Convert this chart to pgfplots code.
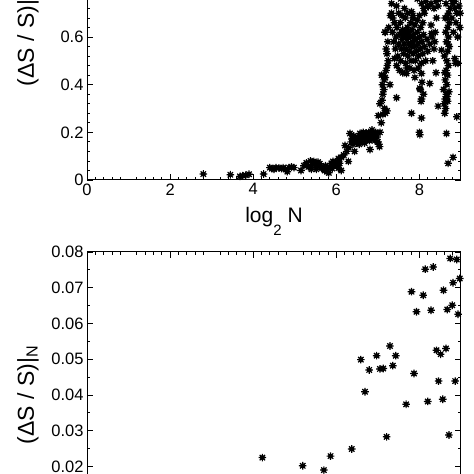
\documentclass[border=0pt]{standalone}
\usepackage{fontspec}
\setmainfont{Liberation Sans}
\usepackage{pgfplots}
\pgfplotsset{compat=1.18}
\pgfdeclareplotmark{ast8}{%
  \pgfpathmoveto{\pgfqpoint{-\pgfplotmarksize}{0pt}}%
  \pgfpathlineto{\pgfqpoint{\pgfplotmarksize}{0pt}}%
  \pgfpathmoveto{\pgfqpoint{0pt}{-\pgfplotmarksize}}%
  \pgfpathlineto{\pgfqpoint{0pt}{\pgfplotmarksize}}%
  \pgfpathmoveto{\pgfqpoint{-0.7071\pgfplotmarksize}{-0.7071\pgfplotmarksize}}%
  \pgfpathlineto{\pgfqpoint{0.7071\pgfplotmarksize}{0.7071\pgfplotmarksize}}%
  \pgfpathmoveto{\pgfqpoint{-0.7071\pgfplotmarksize}{0.7071\pgfplotmarksize}}%
  \pgfpathlineto{\pgfqpoint{0.7071\pgfplotmarksize}{-0.7071\pgfplotmarksize}}%
  \pgfusepathqstroke
  \pgfpathcircle{\pgfpointorigin}{0.65\pgfplotmarksize}%
  \pgfusepathqfill
}
\pgfplotsset{
  myax/.style={
    scale only axis, width=374pt, height=286pt,
    xmin=0, xmax=9,
    xtick={0,2,4,6,8},
    minor xtick={0.2,0.4,0.6,0.8,1.2,1.4,1.6,1.8,2.2,2.4,2.6,2.8,3.2,3.4,3.6,3.8,4.2,4.4,4.6,4.8,5.2,5.4,5.6,5.8,6.2,6.4,6.6,6.8,7.2,7.4,7.6,7.8,8.2,8.4,8.6,8.8},
    tick align=inside,
    major tick length=6pt, minor tick length=3pt,
    axis line style={line width=1pt},
    every tick/.style={black, line width=0.8pt},
    tick label style={font=\fontsize{16.5}{16.5}\selectfont},
    label style={font=\fontsize{21}{21}\selectfont},
    /pgf/number format/assume math mode=true,
    scaled ticks=false,
    ylabel style={at={(axis description cs:-0.142,0.5)}, anchor=base, rotate=0, font=\fontsize{23}{23}\selectfont},
    ylabel={(ΔS / S)|\textsubscript{N}},
    clip=true,
  },
  dots/.style={only marks, mark=ast8, mark size=3.8pt, black, line width=1.2pt},
}
\begin{document}
\begin{tikzpicture}
\path[use as bounding box] (0pt,0pt) rectangle (474pt,474pt);
\clip (0pt,0pt) rectangle (474pt,474pt);
% ---------------- top axis ----------------
\begin{axis}[myax,
  at={(87pt,294pt)}, anchor=south west,
  ymin=0, ymax=1.2,
  ytick={0,0.2,0.4,0.6,0.8,1.0,1.2},
  minor ytick={0.04,0.08,0.12,0.16,0.24,0.28,0.32,0.36,0.44,0.48,0.52,0.56,0.64,0.68,0.72,0.76,0.84,0.88,0.92,0.96,1.04,1.08,1.12,1.16},
  xlabel={log\raisebox{-12.5pt}{\fontsize{15}{15}\selectfont 2} N},
  xlabel style={at={(axis description cs:0.5,-0.150)}, anchor=base},
]
\addplot[dots] table {
x y
2.80 0.025
3.45 0.022
3.68 0.015
3.75 0.018
3.82 0.020
3.90 0.024
4.25 0.025
4.40 0.052
4.45 0.048
4.50 0.045
4.55 0.052
4.62 0.050
4.68 0.048
4.72 0.052
4.78 0.045
4.82 0.035
4.86 0.052
4.92 0.055
4.98 0.052
5.15 0.040
5.22 0.060
5.28 0.072
5.33 0.055
5.38 0.080
5.42 0.065
5.46 0.078
5.50 0.070
5.52 0.045
5.56 0.075
5.60 0.068
5.63 0.055
5.66 0.050
5.70 0.045
5.74 0.060
5.78 0.035
5.82 0.030
5.85 0.055
5.88 0.070
5.92 0.078
5.95 0.065
5.98 0.072
6.02 0.060
6.05 0.050
6.08 0.070
6.12 0.040
5.40 0.045
5.55 0.060
5.72 0.040
5.90 0.048
6.05 0.090
6.12 0.095
6.18 0.105
6.21 0.145
6.25 0.120
6.29 0.078
6.30 0.135
6.33 0.195
6.36 0.160
6.38 0.175
6.40 0.150
6.42 0.185
6.44 0.120
6.46 0.165
6.48 0.155
6.50 0.180
6.52 0.170
6.55 0.150
6.58 0.160
6.60 0.190
6.62 0.175
6.65 0.200
6.67 0.185
6.70 0.170
6.72 0.195
6.75 0.180
6.78 0.200
6.80 0.165
6.81 0.128
6.83 0.185
6.86 0.210
6.88 0.175
6.90 0.190
6.93 0.165
6.95 0.200
6.98 0.180
7.00 0.160
7.02 0.150
7.04 0.140
6.57 0.195
6.68 0.155
6.85 0.195
7.05 0.200
7.08 0.240
7.01 0.270
7.12 0.275
7.18 0.280
7.22 0.290
7.10 0.335
7.12 0.360
7.14 0.380
7.11 0.400
7.15 0.420
7.18 0.430
7.20 0.460
7.23 0.480
7.25 0.500
7.22 0.530
7.20 0.550
7.24 0.580
7.18 0.620
7.26 0.640
7.30 0.690
7.33 0.740
7.16 0.300
7.13 0.440
7.09 0.440
7.05 0.320
7.29 0.400
7.45 0.345
7.81 0.280
7.89 0.430
7.69 0.447
8.05 0.447
8.00 0.200
8.01 0.190
8.01 0.385
8.05 0.340
8.02 0.380
8.04 0.330
8.06 0.410
8.10 0.360
8.25 0.405
8.05 0.260
8.45 0.310
8.61 0.280
8.90 0.265
8.65 0.195
8.69 0.070
8.81 0.095
8.87 0.490
8.93 0.490
8.85 0.510
8.53 0.545
8.37 0.580
8.29 0.615
8.41 0.680
8.21 0.727
7.85 0.680
7.81 0.706
7.33 0.700
7.45 0.730
7.17 0.620
8.60 0.320
8.62 0.340
8.65 0.360
8.58 0.380
8.66 0.400
8.62 0.420
8.68 0.440
8.64 0.460
8.70 0.480
8.66 0.500
8.60 0.520
8.68 0.540
8.72 0.560
8.65 0.580
8.70 0.600
8.63 0.620
8.68 0.640
8.72 0.660
8.66 0.680
8.70 0.700
8.74 0.720
8.64 0.740
8.68 0.330
8.71 0.370
8.63 0.300
8.67 0.350
8.61 0.450
8.69 0.570
8.62 0.680
8.80 0.740
8.85 0.720
8.90 0.700
8.95 0.730
8.78 0.680
8.88 0.660
8.97 0.640
8.82 0.620
8.92 0.600
8.85 0.750
8.98 0.700
8.95 0.770
8.76 0.760
8.05 0.740
8.10 0.720
8.15 0.750
8.20 0.730
8.28 0.740
8.35 0.720
8.40 0.750
8.45 0.730
8.12 0.700
8.30 0.770
8.50 0.760
7.95 0.760
7.55 0.760
7.35 0.620
7.38 0.580
7.40 0.660
7.42 0.550
7.44 0.600
7.46 0.640
7.48 0.520
7.50 0.570
7.52 0.610
7.54 0.660
7.55 0.500
7.57 0.550
7.58 0.590
7.60 0.630
7.62 0.530
7.63 0.570
7.65 0.610
7.66 0.680
7.67 0.490
7.68 0.550
7.70 0.590
7.71 0.640
7.72 0.520
7.74 0.570
7.75 0.610
7.76 0.540
7.78 0.600
7.79 0.660
7.80 0.500
7.81 0.560
7.82 0.630
7.84 0.580
7.85 0.530
7.86 0.610
7.88 0.560
7.89 0.650
7.90 0.500
7.92 0.590
7.93 0.540
7.95 0.620
7.96 0.570
7.98 0.520
8.00 0.600
8.02 0.550
8.03 0.640
8.05 0.490
8.06 0.580
8.08 0.530
8.10 0.610
8.12 0.560
8.15 0.500
8.18 0.590
8.20 0.540
8.25 0.570
7.45 0.480
7.52 0.460
7.60 0.450
7.70 0.470
7.40 0.510
7.36 0.680
7.50 0.700
7.58 0.690
7.64 0.720
7.72 0.700
7.84 0.690
7.95 0.670
8.00 0.690
8.08 0.660
7.77 0.470
7.87 0.460
7.97 0.470
7.62 0.600
7.73 0.620
7.83 0.600
7.57 0.620
7.68 0.620
8.30 0.600
8.35 0.550
8.32 0.500
8.40 0.450
8.38 0.620
8.28 0.650
};
\end{axis}
% ---------------- bottom axis ----------------
\begin{axis}[myax,
  at={(87pt,-64pt)}, anchor=south west,
  ymin=0, ymax=0.08,
  ytick={0,0.01,0.02,0.03,0.04,0.05,0.06,0.07,0.08},
  minor ytick={0.005,0.015,0.025,0.035,0.045,0.055,0.065,0.075},
  yticklabel style={/pgf/number format/fixed, /pgf/number format/fixed zerofill, /pgf/number format/precision=2},
]
\addplot[dots] table {
x y
4.22 0.0225
5.19 0.0202
5.70 0.0190
5.86 0.0229
6.37 0.0249
6.59 0.0499
6.69 0.0409
6.79 0.0470
6.97 0.0510
7.05 0.0473
7.13 0.0474
7.21 0.0283
7.29 0.0537
7.36 0.0482
7.43 0.0510
7.68 0.0374
7.81 0.0689
7.87 0.0460
7.93 0.0633
8.09 0.0679
8.14 0.0752
8.20 0.0382
8.28 0.0637
8.33 0.0758
8.41 0.0525
8.46 0.0439
8.51 0.0514
8.56 0.0388
8.58 0.0693
8.64 0.0530
8.67 0.0639
8.71 0.0288
8.74 0.0782
8.79 0.0651
8.81 0.0714
8.86 0.0439
8.90 0.0779
8.93 0.0626
8.97 0.0726
};
\end{axis}
\end{tikzpicture}
\end{document}
